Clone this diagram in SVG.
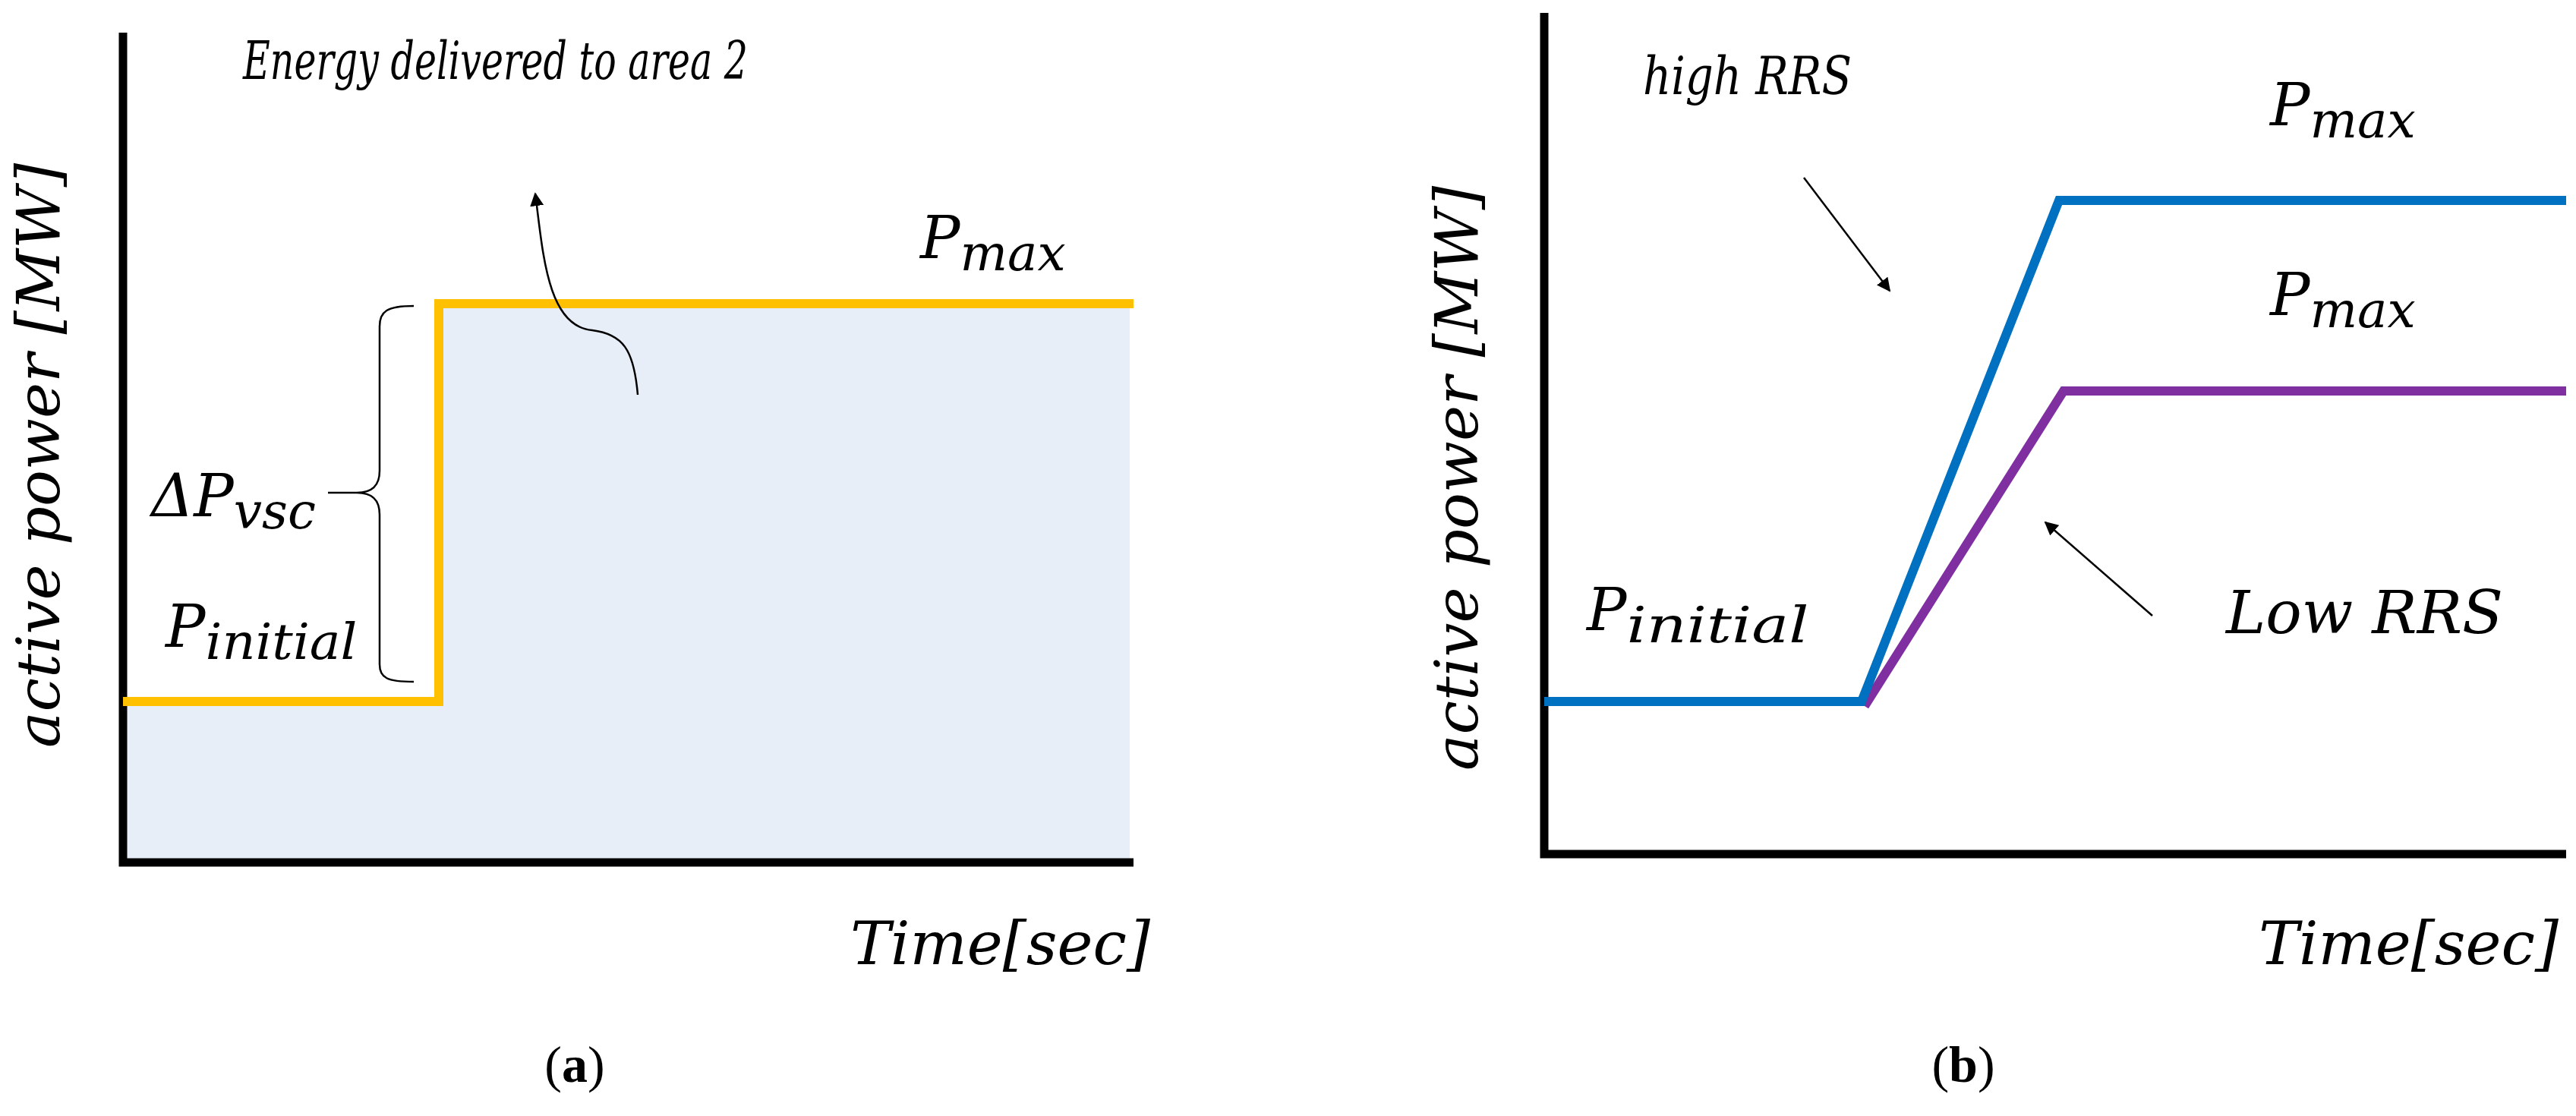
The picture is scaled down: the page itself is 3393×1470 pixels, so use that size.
<svg xmlns="http://www.w3.org/2000/svg" width="3393" height="1470" viewBox="0 0 3393 1470">
<style>
.t{font-family:"DejaVu Serif","Liberation Serif",serif;font-style:italic;font-size:78px;fill:#000}
.s{font-size:66px}
.m{font-size:70px}
.ax{stroke:#000;stroke-width:11;fill:none}
.thin{stroke:#000;stroke-width:2.5;fill:none}
.cap{font-family:"Liberation Serif",serif;font-size:68px}
</style>
<defs>
<marker id="ah2" viewBox="0 0 10 10" refX="9" refY="5" markerWidth="18" markerHeight="18" markerUnits="userSpaceOnUse" orient="auto"><path d="M0,0L10,5L0,10z" fill="#000"/></marker>
</defs>
<rect width="3393" height="1470" fill="#fff"/>
<g id="panel-a">
<rect x="166" y="924" width="418" height="207" fill="#E8EEF8"/>
<rect x="578" y="404" width="910" height="727" fill="#E8EEF8"/>
<path class="ax" d="M162,43V1136H1493"/>
<path d="M162,924H578V400H1493" fill="none" stroke="#FFC000" stroke-width="12"/>
<path class="thin" d="M545,403C510,403 500,410 500,430V620C500,640 490,649 470,649C490,649 500,658 500,678V875C500,893 510,898 545,898"/>
<path class="thin" d="M470,649H432"/>
<path class="thin" marker-end="url(#ah2)" d="M840,520C835,460 820,440 780,435C720,430 715,330 705,255"/>
<text class="t m" x="320" y="104" textLength="665" lengthAdjust="spacingAndGlyphs">Energy delivered to area 2</text>
<text class="t" x="1212" y="340">P<tspan class="s" dy="16">max</tspan></text>
<text class="t" x="199" y="680">ΔP<tspan class="s" dy="16">vsc</tspan></text>
<text class="t" x="218" y="852">P<tspan class="s" dy="16" textLength="200" lengthAdjust="spacingAndGlyphs">initial</tspan></text>
<text class="t" x="1120" y="1270" textLength="395" lengthAdjust="spacingAndGlyphs">Time[sec]</text>
<text class="t" transform="translate(78,600) rotate(-90)" text-anchor="middle" textLength="770" lengthAdjust="spacingAndGlyphs">active power [MW]</text>
<text class="cap" x="757" y="1425" text-anchor="middle">(<tspan font-weight="bold">a</tspan>)</text>
</g>
<g id="panel-b">
<path class="ax" d="M2034,17V1125H3380"/>
<path d="M2456,930L2718,515H3380" fill="none" stroke="#7F2FA0" stroke-width="12"/>
<path d="M2034,924H2452L2712,264H3380" fill="none" stroke="#0070C0" stroke-width="12"/>
<text class="t m" x="2164" y="124" textLength="275" lengthAdjust="spacingAndGlyphs">high RRS</text>
<text class="t" x="2990" y="165">P<tspan class="s" dy="16">max</tspan></text>
<text class="t" x="2990" y="415">P<tspan class="s" dy="16">max</tspan></text>
<text class="t" x="2932" y="834" textLength="365" lengthAdjust="spacingAndGlyphs">Low RRS</text>
<text class="t" x="2090" y="830">P<tspan class="s" dy="16" textLength="240" lengthAdjust="spacingAndGlyphs">initial</tspan></text>
<text class="t" x="2975" y="1270" textLength="395" lengthAdjust="spacingAndGlyphs">Time[sec]</text>
<text class="t" transform="translate(1946,630) rotate(-90)" text-anchor="middle" textLength="770" lengthAdjust="spacingAndGlyphs">active power [MW]</text>
<text class="cap" x="2586" y="1425" text-anchor="middle">(<tspan font-weight="bold">b</tspan>)</text>
</g>
<g id="connectors">
<path class="thin" marker-end="url(#ah2)" d="M2376,234L2489,383"/>
<path class="thin" marker-end="url(#ah2)" d="M2835,811L2694,688"/>
</g>
</svg>
